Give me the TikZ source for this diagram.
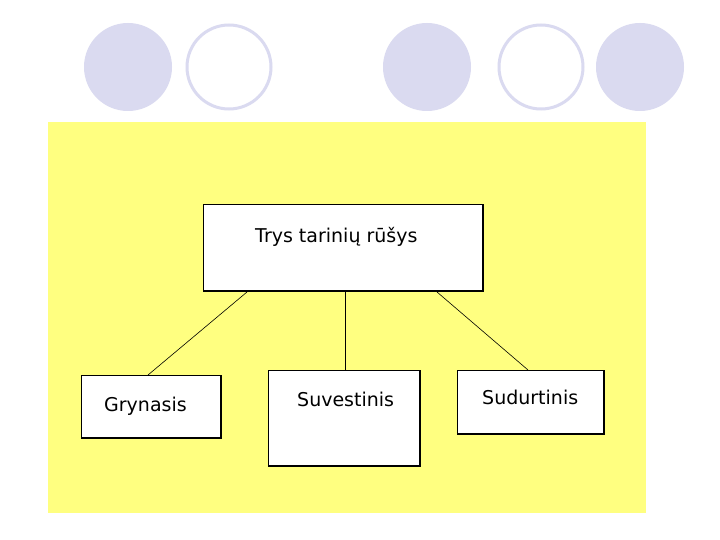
\documentclass[tikz,border=0pt]{standalone}
\usepackage{fontspec}
\setmainfont{DejaVu Sans}
\begin{document}
\begin{tikzpicture}[x=1pt,y=-1pt,
  fc/.style={fill=lav,draw=none},
  oc/.style={fill=white,draw=lav,line width=3pt},
  box/.style={draw=black,line width=0.8pt,fill=white},
  lbl/.style={font=\fontsize{19}{22}\selectfont,anchor=west,inner sep=0pt},
  conn/.style={draw=black,line width=0.6pt}]
\definecolor{lav}{RGB}{218,218,240}
\definecolor{yel}{RGB}{255,255,128}
\useasboundingbox (0,0) rectangle (720,540);
\fill[white] (0,0) rectangle (720,540);
\node[circle,minimum size=88pt,fc] (c1) at (128,67) {};
\node[circle,minimum size=84pt,oc] (c2) at (229,67) {};
\node[circle,minimum size=88pt,fc] (c3) at (427,67) {};
\node[circle,minimum size=84pt,oc] (c4) at (541,67) {};
\node[circle,minimum size=88pt,fc] (c5) at (640,67) {};
\fill[yel] (48,122) rectangle (646,513);
\draw[box] (203,204) rectangle (483,291);
\draw[black,line width=1.5pt] (483,205) -- (483,291) -- (204,291);
\draw[box] (81,375) rectangle (221,438);
\draw[black,line width=1.5pt] (221,376) -- (221,438) -- (82,438);
\draw[box] (268,370) rectangle (420,466);
\draw[black,line width=1.5pt] (420,371) -- (420,466) -- (269,466);
\draw[box] (457,370) rectangle (604,434);
\draw[black,line width=1.5pt] (604,371) -- (604,434) -- (458,434);
\coordinate (t1) at (247,292); \coordinate (g) at (148,375);
\coordinate (t2) at (345,292); \coordinate (s) at (345,370);
\coordinate (t3) at (437,292); \coordinate (d) at (528,370);
\draw[conn] (t1) -- (g);
\draw[conn] (t2) -- (s);
\draw[conn] (t3) -- (d);
\node[lbl] (lt) at (255,237) {Trys tarinių rūšys};
\node[lbl] (lg) at (104,406) {Grynasis};
\node[lbl] (ls) at (297,399) {Suvestinis};
\node[lbl] (ld) at (482,397) {Sudurtinis};
\end{tikzpicture}
\end{document}
